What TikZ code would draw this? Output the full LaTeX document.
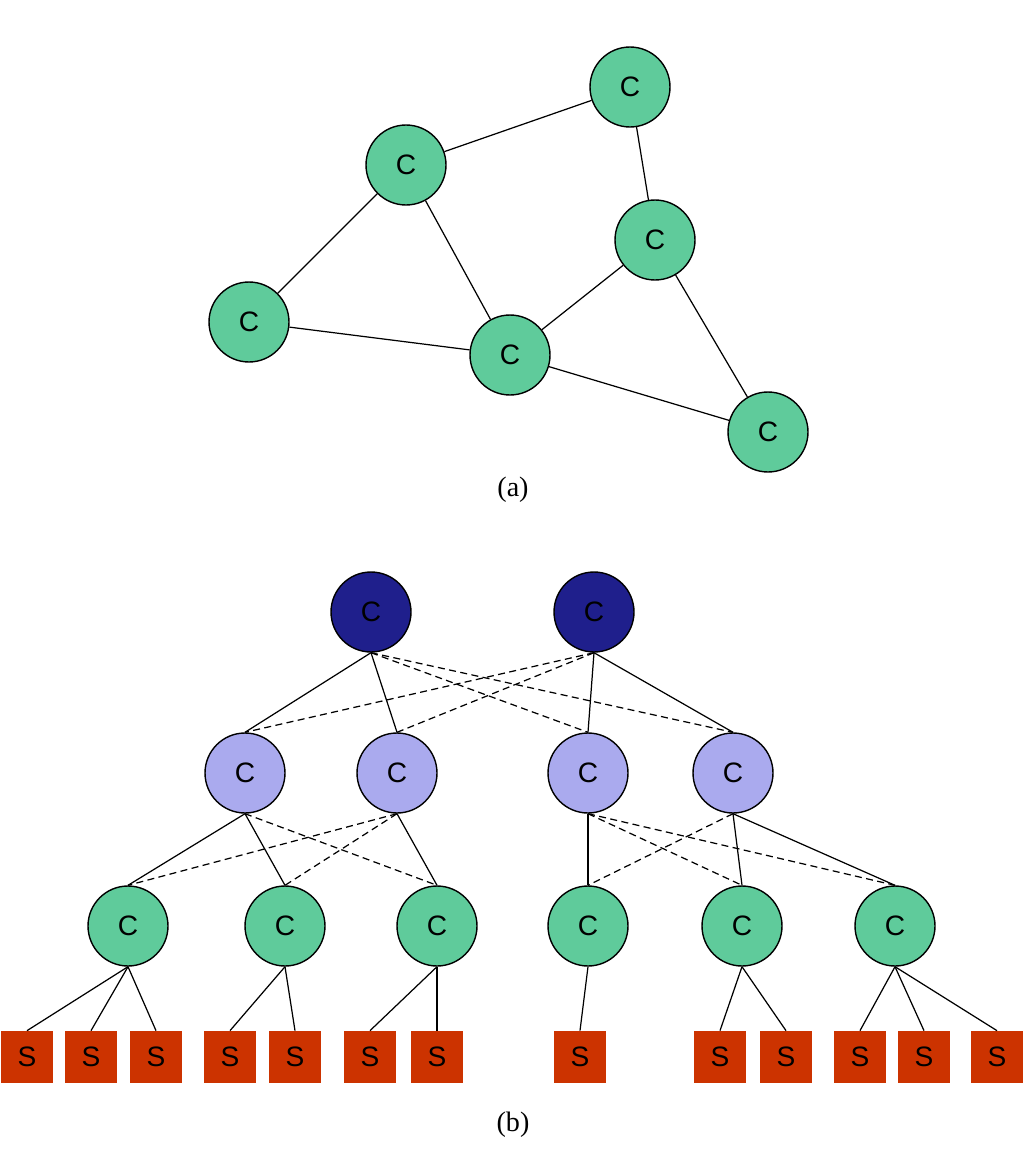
\documentclass[tikz,border=0pt]{standalone}
\usepackage{fontspec}
\setmainfont{Liberation Serif}
\newfontfamily\sansf{Liberation Sans}
\begin{document}
\begin{tikzpicture}[x=0.02cm,y=-0.02cm,
  cn/.style={circle,draw=black,line width=0.8pt,minimum size=1.6cm,inner sep=0pt,font=\sansf\fontsize{16}{18}\selectfont},
  gr/.style={cn,fill=grn},
  lv/.style={cn,fill=lav},
  dk/.style={cn,fill=navy},
  sq/.style={rectangle,fill=rd,minimum width=1.04cm,minimum height=1.04cm,inner sep=0pt,font=\sansf\fontsize{16}{18}\selectfont},
  ed/.style={line width=0.7pt},
  dd/.style={line width=0.7pt,dash pattern=on 4pt off 2.5pt},
  lab/.style={font=\fontsize{16}{18}\selectfont}]
\definecolor{grn}{HTML}{5FCB9B}
\definecolor{lav}{HTML}{AAAAEE}
\definecolor{navy}{HTML}{1F1F8C}
\definecolor{rd}{HTML}{CC3300}
\useasboundingbox (0,0) rectangle (1027,1149);
% (a)
\node[gr] (a1) at (630,87) {C};
\node[gr] (a2) at (406,165) {C};
\node[gr] (a3) at (655,240) {C};
\node[gr] (a4) at (249,322) {C};
\node[gr] (a5) at (510,355) {C};
\node[gr] (a6) at (768,432) {C};
\foreach \u/\v in {a2/a1,a1/a3,a2/a4,a2/a5,a4/a5,a3/a5,a3/a6,a5/a6} \draw[ed] (\u) -- (\v);
\node[lab] (la) at (513,490) {(a)};
% (b)
\node[dk] (t1) at (371,612) {C};
\node[dk] (t2) at (594,612) {C};
\node[lv] (m1) at (245,773) {C};
\node[lv] (m2) at (397,773) {C};
\node[lv] (m3) at (588,773) {C};
\node[lv] (m4) at (733,773) {C};
\node[gr] (g1) at (128,926) {C};
\node[gr] (g2) at (285,926) {C};
\node[gr] (g3) at (437,926) {C};
\node[gr] (g4) at (588,926) {C};
\node[gr] (g5) at (742,926) {C};
\node[gr] (g6) at (895,926) {C};
\foreach \i/\x in {1/27,2/91,3/156,4/230,5/295,6/370,7/437,8/580,9/720,10/786,11/860,12/924,13/997}
  \node[sq] (s\i) at (\x,1057) {S};
\foreach \u/\v in {t1/m1,t1/m2,t2/m3,t2/m4,m1/g1,m1/g2,m2/g3,m3/g4,m4/g5,m4/g6}
  \draw[ed] (\u.south) -- (\v.north);
\foreach \u/\v in {t1/m3,t1/m4,t2/m1,t2/m2,m1/g3,m2/g1,m2/g2,m3/g5,m3/g6,m4/g4}
  \draw[dd] (\u.south) -- (\v.north);
\foreach \u/\v in {g1/s1,g1/s2,g1/s3,g2/s4,g2/s5,g3/s6,g3/s7,g4/s8,g5/s9,g5/s10,g6/s11,g6/s12,g6/s13}
  \draw[ed] (\u.south) -- (\v.north);
\node[lab] (lb) at (513,1125) {(b)};
\end{tikzpicture}
\end{document}
